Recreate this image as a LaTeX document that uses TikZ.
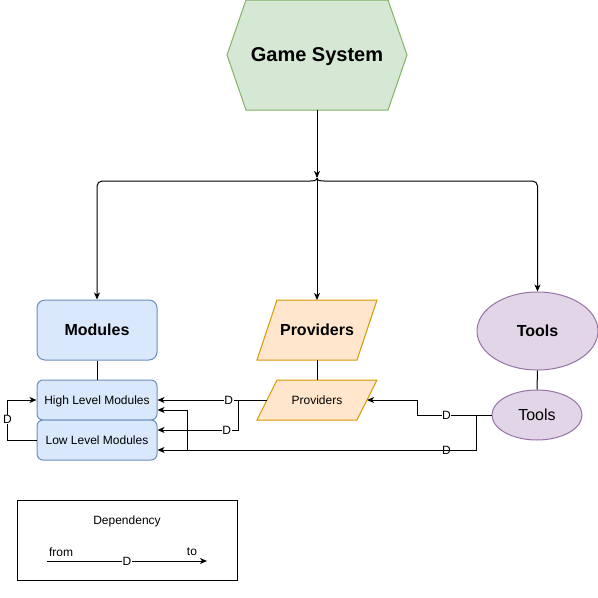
\documentclass[tikz,border=0pt]{standalone}
\usepackage{fontspec}
\setmainfont{Liberation Sans}
\usetikzlibrary{arrows.meta,shapes.geometric}
\definecolor{gfill}{HTML}{D5E8D4}\definecolor{gline}{HTML}{82B366}
\definecolor{bfill}{HTML}{DAE8FC}\definecolor{bline}{HTML}{6C8EBF}
\definecolor{ofill}{HTML}{FFE6CC}\definecolor{oline}{HTML}{D79B00}
\definecolor{pfill}{HTML}{E1D5E7}\definecolor{pline}{HTML}{9673A6}
\tikzset{
  every node/.append style={text depth=0pt},
  conn/.style={line width=1pt,black},
  arr/.style={conn,-{Stealth[length=7pt,width=6pt,inset=2pt]}},
  lbl/.style={fill=white,inner sep=0.5pt,font=\fontsize{12}{14}\selectfont},
  modbox/.style={draw=bline,fill=bfill,line width=1pt,rectangle},
  ellbox/.style={draw=pline,fill=pfill,line width=1pt,ellipse,inner sep=0pt},
  para/.style={draw=oline,fill=ofill,line width=1pt},
  hidden/.style={rectangle,inner sep=0pt,outer sep=0pt},
  small/.style={font=\fontsize{12}{14}\selectfont},
}
\begin{document}
\begin{tikzpicture}[x=1pt,y=-1pt]
\useasboundingbox (0,0) rectangle (598,598);
% Game System hexagon
\draw[draw=gline,fill=gfill,line width=1pt] (246,0) -- (388,0) -- (407,55) -- (388,110) -- (246,110) -- (227,55) -- cycle;
\node[hidden,minimum width=180pt,minimum height=110pt,font=\bfseries\fontsize{20}{24}\selectfont] (gs) at (317,55) {Game System};
% top level nodes
\node[modbox,rounded corners=8pt,minimum width=120pt,minimum height=60pt,font=\bfseries\fontsize{16}{19}\selectfont] (mod) at (97,330) {Modules};
\draw[para] (277,300) -- (377,300) -- (357,360) -- (257,360) -- cycle;
\node[hidden,minimum width=100pt,minimum height=60pt,font=\bfseries\fontsize{16}{19}\selectfont] (prov) at (317,330) {Providers};
\node[ellbox,minimum width=121pt,minimum height=78pt,font=\bfseries\fontsize{16}{19}\selectfont] (tl) at (537.5,331) {Tools};
% second level nodes
\node[modbox,rounded corners=6pt,minimum width=120pt,minimum height=40pt,small] (hl) at (97,400) {High Level Modules};
\node[modbox,rounded corners=6pt,minimum width=120pt,minimum height=40pt,small] (ll) at (97,440) {Low Level Modules};
\draw[para] (277,380) -- (377,380) -- (357,420) -- (257,420) -- cycle;
\node[hidden,minimum width=100pt,minimum height=40pt,small] (provs) at (317,400) {Providers};
\node[ellbox,minimum width=90pt,minimum height=50pt,font=\fontsize{16}{19}\selectfont] (tls) at (537,415) {Tools};
% top connectors
\coordinate (J) at (317,178);
\coordinate (bl) at (310,181);
\coordinate (br) at (324,181);
\draw[arr] (gs.south) -- (J);
\draw[conn] (J) to[out=-90,in=0] (bl);
\draw[conn] (J) to[out=-90,in=180] (br);
\draw[arr,rounded corners=5pt] (bl) -| (mod.north);
\draw[arr,rounded corners=5pt] (br) -| (tl.north);
\draw[arr] (J) -- (prov.north);
\draw[conn] (mod.south) -- (hl.north);
\draw[conn] (prov.south) -- (provs.north);
\draw[conn] (tl.south) -- (tls.north);
% dependencies
\draw[arr] (ll.west) -- ++(-29,0) |- node[lbl,pos=0.26]{D} (hl.west);
\draw[arr] (provs.west) -- node[lbl,pos=0.35]{D} (hl.east);
\draw[arr] (provs.west) -- ++(-29,0) -- ++(0,30) -- node[lbl,pos=0.14]{D} ([yshift=10pt]ll.east);
\draw[arr] (tls.west) -- node[lbl,pos=0.61]{D} ++(-74,0) |- (provs.east);
\draw[arr] (tls.west) -- ++(-15,0) -- ++(0,35) -- node[lbl,pos=0.094]{D} ([yshift=-10pt]ll.east);
\draw[arr] (tls.west) -- ++(-15,0) -- ++(0,35) -| ([xshift=30pt,yshift=-10pt]hl.east) -- ([yshift=-10pt]hl.east);
% legend
\node[draw,line width=1pt,minimum width=220pt,minimum height=80pt] (leg) at (127,540) {};
\node[small] (legt) at (127,520) {Dependency};
\coordinate (lf) at (47,561);
\coordinate (lt) at (207,561);
\draw[arr] (lf) -- node[lbl]{D} (lt);
\node[small] (from) at (61,552) {from};
\node[small] (to) at (192,552) {to};
\end{tikzpicture}
\end{document}
